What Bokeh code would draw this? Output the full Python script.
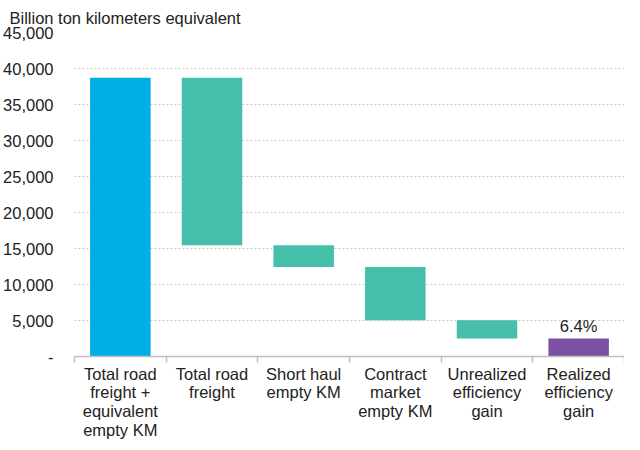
from bokeh.plotting import figure
from bokeh.models import Range1d, FixedTicker, NumeralTickFormatter, ColumnDataSource
from bokeh.core.properties import value
from bokeh.embed import file_html
from bokeh.resources import INLINE

categories = [
    "Total road\nfreight +\nequivalent\nempty KM",
    "Total road\nfreight",
    "Short haul\nempty KM",
    "Contract\nmarket\nempty KM",
    "Unrealized\nefficiency\ngain",
    "Realized\nefficiency\ngain",
]
values = [38700, 23240, 3030, 7380, 2550, 2500]
kinds = ["total", "down", "down", "down", "down", "total"]
colors = ["#00AEE6", "#45BEAA", "#45BEAA", "#45BEAA", "#45BEAA", "#7B51A2"]
y_ticks = [0, 5000, 10000, 15000, 20000, 25000, 30000, 35000, 40000, 45000]
annotation = "6.4%"
title_text = "Billion ton kilometers equivalent"

FONT = "Liberation Sans"
TXT = "#222222"
FS = "16.5px"

xs, tops, bottoms = [], [], []
running = 0
for i, (v, k) in enumerate(zip(values, kinds)):
    xs.append(i + 0.5)
    if k == "total":
        bottoms.append(0)
        tops.append(v)
        running = v
    else:
        tops.append(running)
        bottoms.append(running - v)
        running = running - v

src = ColumnDataSource(dict(x=xs, top=tops, bottom=bottoms, color=colors))

p = figure(width=624, height=442, output_backend="svg", toolbar_location=None,
           x_range=Range1d(0, len(categories)), y_range=Range1d(0, 45000),
           min_border_left=65, min_border_right=0, min_border_top=32, min_border_bottom=40)
p.outline_line_color = None
p.background_fill_color = "white"
p.border_fill_color = "white"

p.title.text = title_text
p.title.align = "left"
p.title.offset = -65
p.title.standoff = 12
p.title.text_font = FONT
p.title.text_font_size = FS
p.title.text_font_style = "normal"
p.title.text_color = TXT

p.vbar(x="x", top="top", bottom="bottom", width=0.66, color="color", line_color=None, source=src)

p.text(x=[xs[-1]], y=[tops[-1]], text=[annotation], text_align="center", text_baseline="bottom",
       y_offset=-4, text_font=value(FONT), text_font_size=FS, text_color=TXT)

# x axis: tick marks between categories, labels at centres
xa = p.xaxis[0]
xa.ticker = FixedTicker(ticks=xs, minor_ticks=list(range(len(categories) + 1)))
xa.major_label_overrides = {x: c for x, c in zip(xs, categories)}
xa.major_tick_line_color = None
xa.major_tick_out = 0
xa.major_tick_in = 0
xa.minor_tick_line_color = "#BFBFBF"
xa.minor_tick_line_width = 1.5
xa.minor_tick_out = 6
xa.minor_tick_in = 0
xa.axis_line_color = "#BFBFBF"
xa.axis_line_width = 1.5
xa.major_label_text_font = FONT
xa.major_label_text_font_size = FS
xa.major_label_text_line_height = 1.05
xa.major_label_text_color = TXT
xa.major_label_standoff = 2

# y axis
ya = p.yaxis[0]
ya.ticker = FixedTicker(ticks=y_ticks)
ya.formatter = NumeralTickFormatter(format="0,0")
ya.major_label_overrides = {0: "-"}
ya.axis_line_color = None
ya.major_tick_line_color = None
ya.minor_tick_line_color = None
ya.major_label_text_font = FONT
ya.major_label_text_font_size = FS
ya.major_label_text_color = TXT
ya.major_label_standoff = 15

p.xgrid.grid_line_color = None
p.ygrid.grid_line_color = "#C8C8C8"
p.ygrid.grid_line_dash = "2 2"
p.ygrid.grid_line_width = 1

open("out.html", "w").write(file_html(p, INLINE))
